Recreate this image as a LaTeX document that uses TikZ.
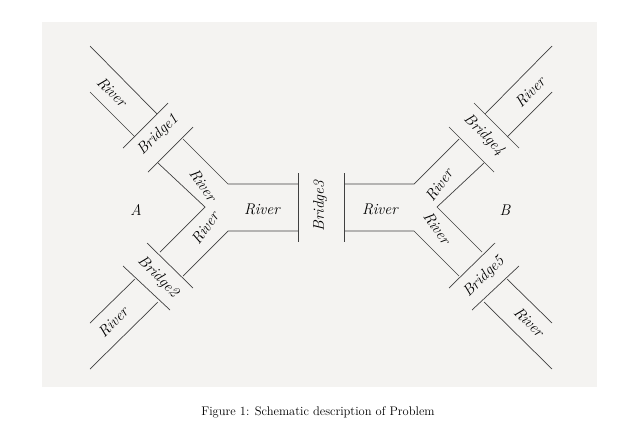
\documentclass[tikz,border=0pt]{standalone}
\definecolor{bgc}{RGB}{244,243,241}
\begin{document}
\begin{tikzpicture}[x=1pt,y=-1pt,
  riv/.style={draw=black!75,line width=0.7pt},
  lab/.style={font=\fontsize{15.5}{17}\selectfont\itshape,inner sep=0pt}]
\useasboundingbox (0,0) rectangle (634,442);
\fill[bgc] (42,22) rectangle (597,387);
\foreach \s/\o in {1/0,-1/642}{
\begin{scope}[xshift=\o pt,xscale=\s]
\draw[riv] (90,46) -- (157,114);
\draw[riv] (90,92) -- (135,137);
\draw[riv] (123,148) -- (168,103);
\draw[riv] (148,172) -- (193,127);
\draw[riv] (183,139) -- (228,184) -- (298,184);
\draw[riv] (158,163) -- (205,207) -- (160,252);
\draw[riv] (183,276) -- (228,231) -- (298,231);
\draw[riv] (298,173) -- (298,242);
\draw[riv] (123,266) -- (170,310);
\draw[riv] (147,243) -- (193,288);
\draw[riv] (90,369) -- (158,302);
\draw[riv] (90,323) -- (135,279);
\end{scope}}
\node[lab,rotate=-45] (r1) at (112,92) {River};
\node[lab,rotate=45] (b1) at (158,135) {Bridge1};
\node[lab,rotate=-55] (r2) at (203,185) {River};
\node[lab,rotate=55] (r3) at (205,228) {River};
\node[lab,rotate=-45] (b2) at (158,277) {Bridge2};
\node[lab,rotate=45] (r4) at (113,322) {River};
\node[lab] (r5) at (262,209) {River};
\node[lab,rotate=90] (b3) at (320,206) {Bridge3};
\node[lab] (a) at (136,210) {A};
\node[lab] (b) at (505,210) {B};
\node[lab] (r6) at (380,209) {River};
\node[lab,rotate=45] (r7) at (530,92) {River};
\node[lab,rotate=-45] (b4) at (484,135) {Bridge4};
\node[lab,rotate=55] (r8) at (439,185) {River};
\node[lab,rotate=-55] (r9) at (437,228) {River};
\node[lab,rotate=45] (b5) at (484,277) {Bridge5};
\node[lab,rotate=-45] (r10) at (529,322) {River};
\node[font=\fontsize{12.5}{14}\selectfont] (cap) at (318,412) {Figure 1: Schematic description of Problem};
\end{tikzpicture}
\end{document}
